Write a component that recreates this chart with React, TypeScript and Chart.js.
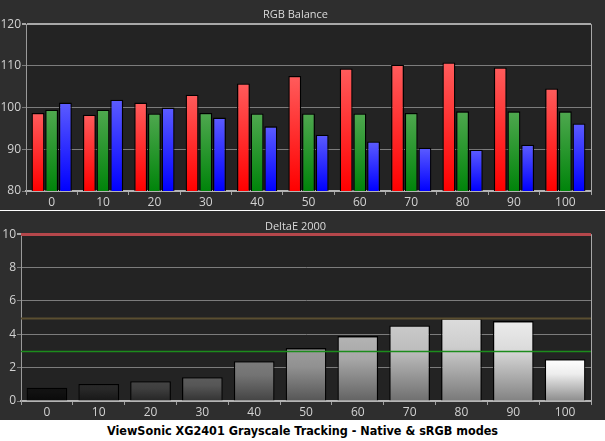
import React, { useEffect, useRef } from "react";
import { Chart, registerables } from "chart.js";

Chart.register(...registerables);

// ---------- data ----------
const categories = ["0", "10", "20", "30", "40", "50", "60", "70", "80", "90", "100"];
const redValues = [98.7, 98.3, 101.2, 103.1, 105.8, 107.6, 109.4, 110.3, 110.8, 109.6, 104.6];
const greenValues = [99.5, 99.5, 98.6, 98.7, 98.6, 98.6, 98.6, 98.7, 99.1, 99.1, 99.1];
const blueValues = [101.2, 101.9, 100.0, 97.6, 95.5, 93.5, 91.9, 90.4, 89.9, 91.1, 96.2];
const deltaEValues = [0.8, 1.02, 1.18, 1.42, 2.38, 3.17, 3.89, 4.53, 4.95, 4.79, 2.5];
const rgbTicks = [80, 90, 100, 110, 120];
const deltaTicks = [0, 2, 4, 6, 8, 10];
const deltaThresholds = [10, 5, 3];

const topTitle = "RGB Balance";
const bottomTitle = "DeltaE 2000";
const pageTitle = "ViewSonic XG2401 Grayscale Tracking - Native & sRGB modes";

// ---------- styles ----------
const OUTER_BG = "#2e2e2e";
const PLOT_BG = "#232323";
const GRID = "#7c7c7c";
const GRID_TOP = "#a8a8a8";
const TEXT = "#d2d2d2";
const FONT = "'Open Sans', 'Noto Sans', sans-serif";
const thresholdColors = ["#b5474b", "#5a4e30", "#1c8c1c"];
const thresholdWidths = [3, 2, 1.5];
const grayShades = ["#121212", "#2a2a2a", "#444444", "#5c5c5c", "#7c7c7c", "#9c9c9c", "#b4b4b4", "#cacaca", "#dcdcdc", "#ececec", "#ffffff"];
const rgbGrad = {
  r: ["#ff5c5c", "#ff0000"],
  g: ["#4fa84f", "#00840a"],
  b: ["#5c5cff", "#0000ff"],
};

function darken(hex: string, f: number) {
  const n = parseInt(hex.slice(1), 16);
  const r = Math.round(((n >> 16) & 255) * f);
  const g = Math.round(((n >> 8) & 255) * f);
  const b = Math.round((n & 255) * f);
  return `rgb(${r},${g},${b})`;
}

function barGradient(context: any, top: string, bottom: string, mid?: string) {
  const chart = context.chart;
  const { ctx, chartArea } = chart;
  if (!chartArea || context.parsed == null) return top;
  const y = chart.scales.y.getPixelForValue(context.parsed.y);
  const base = chartArea.bottom;
  const g = ctx.createLinearGradient(0, y, 0, base);
  g.addColorStop(0, top);
  if (mid) g.addColorStop(0.35, mid);
  g.addColorStop(1, bottom);
  return g;
}

const panelPlugin = {
  id: "panelPlugin",
  beforeDraw(chart: any) {
    const { ctx, width, height, chartArea: a } = chart;
    ctx.save();
    ctx.fillStyle = OUTER_BG;
    ctx.fillRect(0, 0, width, height);
    ctx.fillStyle = PLOT_BG;
    ctx.fillRect(a.left, a.top, a.right - a.left, a.bottom - a.top);
    ctx.restore();
  },
  afterDraw(chart: any) {
    const { ctx, chartArea: a } = chart;
    ctx.save();
    ctx.strokeStyle = GRID_TOP;
    ctx.lineWidth = 1;
    ctx.beginPath();
    ctx.moveTo(a.right + 0.5, a.top);
    ctx.lineTo(a.right + 0.5, a.bottom + 3);
    ctx.stroke();
    ctx.restore();
  },
};

const thresholdPlugin = {
  id: "thresholdPlugin",
  afterDatasetsDraw(chart: any) {
    const { ctx, chartArea: a } = chart;
    const yScale = chart.scales.y;
    for (let i = 0; i < deltaThresholds.length; i++) {
      const py = Math.round(yScale.getPixelForValue(deltaThresholds[i])) + 0.5;
      ctx.save();
      ctx.strokeStyle = thresholdColors[i];
      ctx.lineWidth = thresholdWidths[i];
      ctx.beginPath();
      ctx.moveTo(a.left, py);
      ctx.lineTo(a.right, py);
      ctx.stroke();
      ctx.restore();
    }
  },
};

function commonScales(tickList: number[], yWidth: number) {
  const top = tickList[tickList.length - 1];
  return {
    x: {
      grid: {
        offset: true,
        drawOnChartArea: false,
        drawTicks: true,
        tickLength: 4,
        color: "#a0a0a0",
      },
      border: { color: "#b4b4b4", width: 2 },
      ticks: { color: TEXT, font: { family: FONT, size: 12 }, padding: 0 },
      afterFit: (s: any) => {
        s.height = 19;
      },
    },
    y: {
      min: tickList[0],
      max: top,
      afterBuildTicks: (axis: any) => {
        axis.ticks = tickList.map((v) => ({ value: v }));
      },
      ticks: { color: TEXT, font: { family: FONT, size: 12 }, padding: 1 },
      grid: {
        color: (c: any) => (c.tick && c.tick.value === top ? GRID_TOP : GRID),
        tickLength: 4,
        lineWidth: (c: any) => (c.tick && c.tick.value === top ? 2 : 1),
      },
      border: { color: "#9a9a9a", width: 1 },
      afterFit: (s: any) => {
        s.width = yWidth;
      },
    },
  };
}

function RgbChart() {
  const ref = useRef<HTMLCanvasElement>(null);
  useEffect(() => {
    const chart = new Chart(ref.current!, {
      type: "bar",
      data: {
        labels: categories,
        datasets: [
          { data: redValues, backgroundColor: (c: any) => barGradient(c, rgbGrad.r[0], rgbGrad.r[1]) },
          { data: greenValues, backgroundColor: (c: any) => barGradient(c, rgbGrad.g[0], rgbGrad.g[1]) },
          { data: blueValues, backgroundColor: (c: any) => barGradient(c, rgbGrad.b[0], rgbGrad.b[1]) },
        ].map((d) => ({
          ...d,
          borderColor: "#000000",
          borderWidth: 1.3,
          borderSkipped: "bottom",
          categoryPercentage: 0.8,
          barPercentage: 0.94,
        })),
      },
      options: {
        animation: false,
        responsive: false,
        maintainAspectRatio: false,
        layout: { padding: { left: 0, right: 14, top: 0, bottom: 0 } },
        plugins: {
          legend: { display: false },
          tooltip: { enabled: false },
          title: {
            display: true,
            text: topTitle,
            color: "#dadada",
            font: { family: FONT, size: 11, weight: "normal" },
            padding: { top: 8, bottom: 3 },
          },
        },
        scales: commonScales(rgbTicks, 26) as any,
      },
      plugins: [panelPlugin],
    } as any);
    return () => chart.destroy();
  }, []);
  return <canvas ref={ref} width={605} height={210} style={{ display: "block" }} />;
}

function DeltaChart() {
  const ref = useRef<HTMLCanvasElement>(null);
  useEffect(() => {
    const chart = new Chart(ref.current!, {
      type: "bar",
      data: {
        labels: categories,
        datasets: [
          {
            data: deltaEValues,
            backgroundColor: (c: any) => {
              const shade = grayShades[c.dataIndex] || "#888888";
              return barGradient(c, shade, darken(shade, 0.55), darken(shade, 0.93));
            },
            borderColor: "#000000",
            borderWidth: 1.3,
            borderSkipped: "bottom",
            categoryPercentage: 1,
            barPercentage: 0.785,
          },
        ],
      },
      options: {
        animation: false,
        responsive: false,
        maintainAspectRatio: false,
        layout: { padding: { left: 0, right: 14, top: 0, bottom: 0 } },
        plugins: {
          legend: { display: false },
          tooltip: { enabled: false },
          title: {
            display: true,
            text: bottomTitle,
            color: "#dadada",
            font: { family: FONT, size: 11, weight: "normal" },
            padding: { top: 9, bottom: 1 },
          },
        },
        scales: commonScales(deltaTicks, 21) as any,
      },
      plugins: [panelPlugin, thresholdPlugin],
    } as any);
    return () => chart.destroy();
  }, []);
  return <canvas ref={ref} width={605} height={209} style={{ display: "block" }} />;
}

export default function App() {
  useEffect(() => {
    document.body.style.margin = "0";
    document.body.style.background = "#ffffff";
  }, []);
  return (
    <div style={{ width: 605, height: 441, background: "#ffffff", overflow: "hidden" }}>
      <RgbChart />
      <div style={{ height: 1, background: "#ffffff" }} />
      <DeltaChart />
      <div
        style={{
          height: 21,
          lineHeight: "22px",
          textAlign: "center",
          fontFamily: "'DejaVu Sans Condensed', 'DejaVu Sans', Verdana, sans-serif",
          fontStretch: "condensed",
          fontWeight: "bold",
          fontSize: 12.5,
          color: "#000000",
          whiteSpace: "nowrap",
        }}
      >
        {pageTitle}
      </div>
    </div>
  );
}
